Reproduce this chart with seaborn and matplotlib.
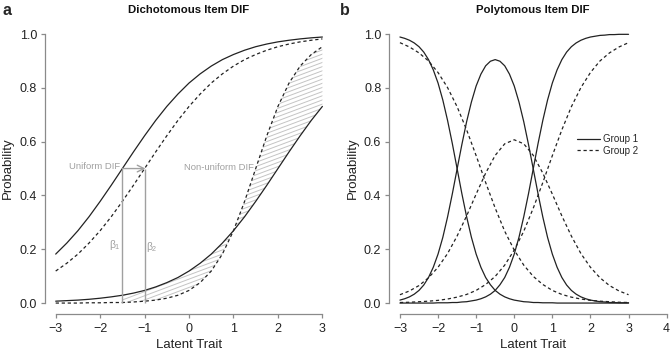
import numpy as np
import pandas as pd
import matplotlib
matplotlib.use('Agg')
import matplotlib.pyplot as plt
from matplotlib import hatch as mhatch
from matplotlib.path import Path
import seaborn as sns

# latent trait grid (values every 0.25)
trait = [-3.0, -2.75, -2.5, -2.25, -2.0, -1.75, -1.5, -1.25, -1.0, -0.75, -0.5, -0.25,
         0.0, 0.25, 0.5, 0.75, 1.0, 1.25, 1.5, 1.75, 2.0, 2.25, 2.5, 2.75, 3.0]
# finer grid for the steep group 1 curves of panel b
trait_fine = [-3.0, -2.875, -2.75, -2.625, -2.5, -2.375, -2.25, -2.125, -2.0, -1.875, -1.75,
              -1.625, -1.5, -1.375, -1.25, -1.125, -1.0, -0.875, -0.75, -0.625, -0.5, -0.375,
              -0.25, -0.125, 0.0, 0.125, 0.25, 0.375, 0.5, 0.625, 0.75, 0.875, 1.0, 1.125,
              1.25, 1.375, 1.5, 1.625, 1.75, 1.875, 2.0, 2.125, 2.25, 2.375, 2.5, 2.625,
              2.75, 2.875, 3.0]

# panel a - dichotomous item
uni_g1 = [0.182, 0.223, 0.269, 0.321, 0.378, 0.438, 0.500, 0.562, 0.622, 0.679, 0.731, 0.777,
          0.818, 0.852, 0.881, 0.905, 0.924, 0.940, 0.953, 0.963, 0.971, 0.977, 0.982, 0.986, 0.989]
uni_g2 = [0.119, 0.148, 0.182, 0.223, 0.269, 0.321, 0.378, 0.438, 0.500, 0.562, 0.622, 0.679,
          0.731, 0.777, 0.818, 0.852, 0.881, 0.905, 0.924, 0.940, 0.953, 0.963, 0.971, 0.977, 0.982]
non_g1 = [0.007, 0.009, 0.011, 0.014, 0.018, 0.023, 0.029, 0.037, 0.047, 0.060, 0.076, 0.095,
          0.119, 0.148, 0.182, 0.223, 0.269, 0.321, 0.378, 0.438, 0.500, 0.562, 0.622, 0.679, 0.731]
non_g2 = [0.000, 0.000, 0.000, 0.001, 0.001, 0.002, 0.002, 0.004, 0.007, 0.011, 0.018, 0.029,
          0.047, 0.076, 0.119, 0.182, 0.269, 0.378, 0.500, 0.622, 0.731, 0.818, 0.881, 0.924, 0.953]
beta1, beta2 = -1.5, -1.0

# panel b - polytomous item, 3 categories per group
cat1_g1 = [0.989, 0.984, 0.977, 0.967, 0.953, 0.933, 0.905, 0.867, 0.818, 0.755, 0.679,
           0.593, 0.500, 0.407, 0.321, 0.245, 0.182, 0.133, 0.095, 0.068, 0.047, 0.033,
           0.023, 0.016, 0.011, 0.008, 0.005, 0.004, 0.002, 0.002, 0.001, 0.001, 0.001, 0.000,
           0.000, 0.000, 0.000, 0.000, 0.000, 0.000, 0.000, 0.000, 0.000, 0.000, 0.000, 0.000,
           0.000, 0.000, 0.000]
cat2_g1 = [0.011, 0.016, 0.023, 0.033, 0.047, 0.067, 0.095, 0.133, 0.182, 0.244, 0.320,
           0.406, 0.498, 0.589, 0.674, 0.747, 0.807, 0.851, 0.882, 0.899, 0.905, 0.899,
           0.882, 0.851, 0.807, 0.747, 0.674, 0.589, 0.498, 0.406, 0.320, 0.244, 0.182, 0.133,
           0.095, 0.067, 0.047, 0.033, 0.023, 0.016, 0.011, 0.008, 0.005, 0.004, 0.002, 0.002,
           0.001, 0.001, 0.001]
cat3_g1 = [0.000, 0.000, 0.000, 0.000, 0.000, 0.000, 0.000, 0.000, 0.001, 0.001, 0.001,
           0.002, 0.002, 0.004, 0.005, 0.008, 0.011, 0.016, 0.023, 0.033, 0.047, 0.068,
           0.095, 0.133, 0.182, 0.245, 0.321, 0.407, 0.500, 0.593, 0.679, 0.755, 0.818, 0.867,
           0.905, 0.933, 0.953, 0.967, 0.977, 0.984, 0.989, 0.992, 0.995, 0.996, 0.998, 0.998,
           0.999, 0.999, 0.999]
cat1_g2 = [0.968, 0.952, 0.930, 0.900, 0.857, 0.801, 0.730, 0.644, 0.548, 0.448, 0.353, 0.267,
           0.197, 0.141, 0.099, 0.069, 0.047, 0.032, 0.022, 0.015, 0.010, 0.007, 0.005, 0.003, 0.002]
cat2_g2 = [0.031, 0.045, 0.065, 0.094, 0.133, 0.184, 0.249, 0.324, 0.405, 0.483, 0.549, 0.592,
           0.607, 0.592, 0.549, 0.483, 0.405, 0.324, 0.249, 0.184, 0.133, 0.094, 0.065, 0.045, 0.031]
cat3_g2 = [0.002, 0.003, 0.005, 0.007, 0.010, 0.015, 0.022, 0.032, 0.047, 0.069, 0.099, 0.141,
           0.197, 0.267, 0.353, 0.448, 0.548, 0.644, 0.730, 0.801, 0.857, 0.900, 0.930, 0.952, 0.968]

ink = '#222222'
grey = '#a0a0a0'
dash = (0, (2.6, 2.2))


# flatter '/' hatch (slope 0.375) like the shading in the original figure
class FlatHatch(mhatch.HatchPatternBase):
    def __init__(self, hatch, density):
        self.offsets = np.arange(-12, 27) / 24 if hatch.count('/') else np.array([])
        self.num_vertices = 2 * len(self.offsets)

    def set_vertices_and_codes(self, vertices, codes):
        for i, c in enumerate(self.offsets):
            vertices[2 * i] = (-0.1, c - 0.0375)
            vertices[2 * i + 1] = (1.1, c + 0.4125)
        codes[0::2] = Path.MOVETO
        codes[1::2] = Path.LINETO


mhatch._hatch_types = [FlatHatch if t is mhatch.NorthEastHatch else t for t in mhatch._hatch_types]

sns.set_theme(style='ticks')
plt.rcParams['font.family'] = ['Liberation Sans', 'DejaVu Sans']
plt.rcParams['mathtext.fontset'] = 'custom'
plt.rcParams['mathtext.rm'] = 'Liberation Sans'
plt.rcParams['mathtext.it'] = 'Liberation Sans'
plt.rcParams['hatch.color'] = '#c4c4c4'
plt.rcParams['hatch.linewidth'] = 0.7

fig = plt.figure(figsize=(6.7, 3.53), dpi=100)
ax1 = fig.add_axes([0.0672, 0.111, 0.4299, 0.823])
ax2 = fig.add_axes([0.581, 0.111, 0.4299, 0.823])

x = np.array(trait)

# ---- panel a
sns.lineplot(x=trait, y=uni_g1, ax=ax1, color=ink, lw=0.9)
sns.lineplot(x=trait, y=uni_g2, ax=ax1, color=ink, lw=0.9, linestyle=dash)
sns.lineplot(x=trait, y=non_g1, ax=ax1, color=ink, lw=0.9)
sns.lineplot(x=trait, y=non_g2, ax=ax1, color=ink, lw=0.9, linestyle=dash)
ax1.fill_between(x, non_g1, non_g2, where=x >= beta1, facecolor='none',
                 edgecolor='#c4c4c4', hatch='/', linewidth=0)

# uniform DIF markers
ax1.vlines([beta1, beta2], 0, 0.5, color=grey, lw=1.0)
ax1.annotate('', xy=(beta2 + 0.02, 0.5), xytext=(beta1, 0.5),
             arrowprops=dict(arrowstyle='->', color=grey, lw=1.0, shrinkA=0, shrinkB=0))
ax1.text(beta1 - 0.05, 0.507, 'Uniform DIF', color=grey, fontsize=6.8, ha='right', va='center')
ax1.text(beta1 - 0.17, 0.215, r'$\beta_1$', color=grey, fontsize=7.5, ha='center', va='center')
ax1.text(beta2 + 0.17, 0.21, r'$\beta_2$', color=grey, fontsize=7.5, ha='center', va='center')
ax1.text(1.45, 0.505, 'Non-uniform DIF', color=grey, fontsize=6.8, ha='right', va='center')

# ---- panel b
sns.lineplot(x=trait_fine, y=cat1_g1, ax=ax2, color=ink, lw=0.9, label='Group 1')
sns.lineplot(x=trait, y=cat1_g2, ax=ax2, color=ink, lw=0.9, linestyle=dash, label='Group 2')
for s1, s2 in [(cat2_g1, cat2_g2), (cat3_g1, cat3_g2)]:
    sns.lineplot(x=trait_fine, y=s1, ax=ax2, color=ink, lw=0.9)
    sns.lineplot(x=trait, y=s2, ax=ax2, color=ink, lw=0.9, linestyle=dash)
ax2.legend(loc='center left', bbox_to_anchor=(1.66, 0.588), bbox_transform=ax2.transData,
           frameon=False, fontsize=7, handlelength=2.3, handletextpad=0.35,
           borderpad=0, borderaxespad=0, labelspacing=0.15)

# ---- axes styling (R base graphics look)
for ax, xmax in [(ax1, 3), (ax2, 4)]:
    ax.set_xlim(-3 - 0.04 * (xmax + 3), xmax + 0.04 * (xmax + 3))
    ax.set_ylim(-0.04, 1.04)
    ax.set_xticks(range(-3, xmax + 1))
    ax.set_xticklabels([str(t).replace('-', '\u2212') for t in range(-3, xmax + 1)])
    ax.set_yticks([0, 0.2, 0.4, 0.6, 0.8, 1.0])
    ax.set_yticklabels(['0.0', '0.2', '0.4', '0.6', '0.8', '1.0'])
    for side in ['top', 'right']:
        ax.spines[side].set_visible(False)
    ax.spines['left'].set_bounds(0, 1)
    ax.spines['bottom'].set_bounds(-3, xmax)
    for side in ['left', 'bottom']:
        ax.spines[side].set_color('#8a8a8a')
        ax.spines[side].set_linewidth(0.9)
    ax.tick_params(axis='both', length=3.2, width=0.9, color='#8a8a8a',
                   labelsize=9, labelcolor='#222222', pad=2.5)
    ax.tick_params(axis='x', pad=3.5)
    ax.set_xlabel('Latent Trait', fontsize=9.5, color='#222222', labelpad=3)
    ax.set_ylabel('Probability', fontsize=9.5, color='#222222', labelpad=4)
    ax.patch.set_alpha(0)

fig.text(0.282, 0.972, 'Dichotomous Item DIF', fontsize=8.2, weight='bold',
         ha='center', va='center', color='#111111')
fig.text(0.795, 0.972, 'Polytomous Item DIF', fontsize=8.2, weight='bold',
         ha='center', va='center', color='#111111')
fig.text(0.003, 0.969, 'a', fontsize=11.5, weight='bold', ha='left', va='center')
fig.text(0.508, 0.969, 'b', fontsize=11.5, weight='bold', ha='left', va='center')

fig.savefig('out.png', dpi=100)
